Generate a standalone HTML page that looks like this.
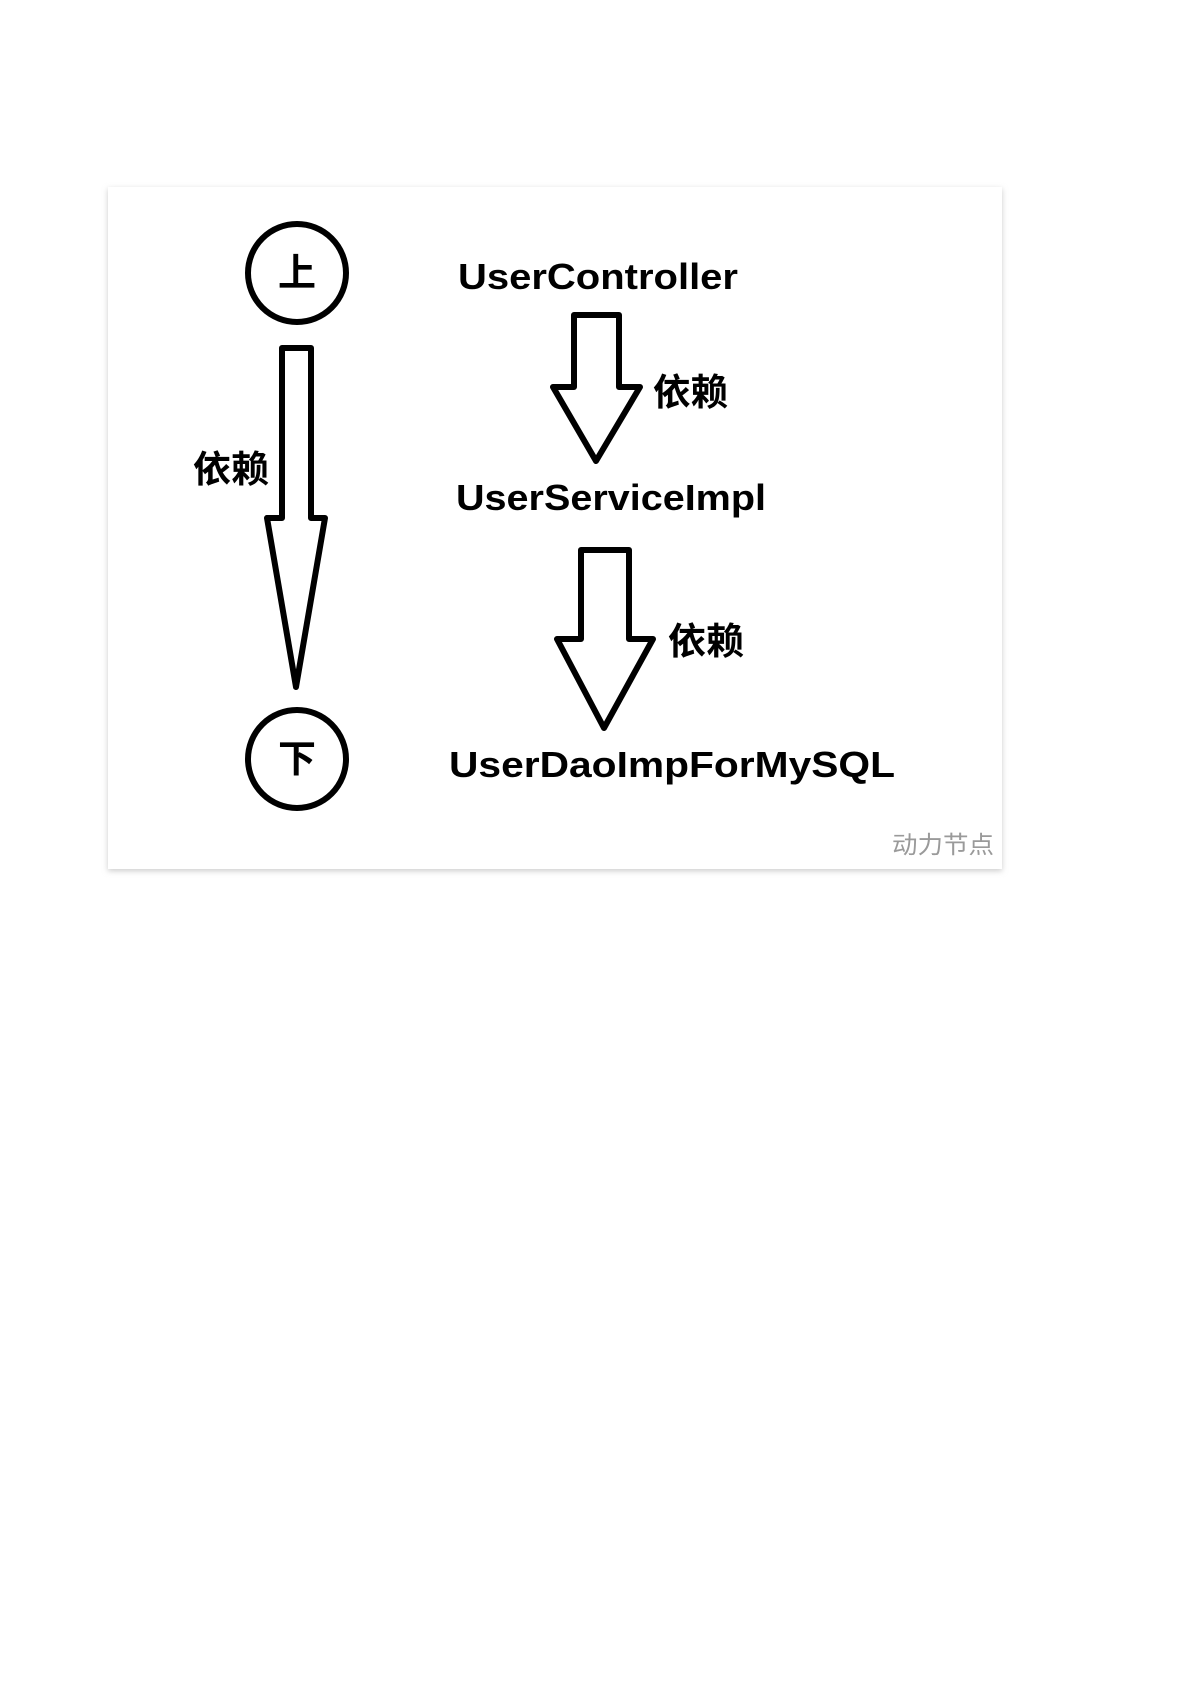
<!DOCTYPE html>
<html><head><meta charset="utf-8"><style>
html,body{margin:0;padding:0;background:#fff;width:1191px;height:1685px;overflow:hidden}
</style></head><body>
<svg width="1191" height="1685" xmlns="http://www.w3.org/2000/svg">
<defs><filter id="sh" x="-5%" y="-5%" width="110%" height="110%"><feGaussianBlur stdDeviation="3"/></filter></defs>
<rect x="108" y="189" width="894" height="682" fill="#ccc" filter="url(#sh)"/>
<rect x="108" y="187" width="894" height="682" fill="#fff"/>
<g fill="none" stroke="#000" stroke-width="6" stroke-linejoin="round">
<circle cx="297" cy="273" r="49"/>
<circle cx="297" cy="759" r="49"/>
<polygon points="282,348 311,348 311,518 325,518 296,687 267,518 282,518"/>
<polygon points="574,315 619,315 619,387 640,387 596,461 553,387 574,387"/>
<polygon points="581,550 629,550 629,639 653,639 604,728 557,639 581,639"/>
</g>
<g font-family="Liberation Sans, 'Noto Sans CJK SC', sans-serif" font-weight="bold" fill="#000">
<text x="297" y="286" font-size="38" text-anchor="middle" font-family="'Noto Sans CJK SC',sans-serif">上</text>
<text x="297" y="772" font-size="38" text-anchor="middle" font-family="'Noto Sans CJK SC',sans-serif">下</text>
<text x="193" y="482" font-size="37" textLength="76" lengthAdjust="spacingAndGlyphs" font-family="'Noto Sans CJK SC',sans-serif">依赖</text>
<text x="653" y="405" font-size="37" textLength="75" lengthAdjust="spacingAndGlyphs" font-family="'Noto Sans CJK SC',sans-serif">依赖</text>
<text x="668" y="654" font-size="37" textLength="76" lengthAdjust="spacingAndGlyphs" font-family="'Noto Sans CJK SC',sans-serif">依赖</text>
<text x="458" y="289" font-size="36" textLength="280" lengthAdjust="spacingAndGlyphs">UserController</text>
<text x="456" y="510" font-size="36" textLength="310" lengthAdjust="spacingAndGlyphs">UserServiceImpl</text>
<text x="449" y="777" font-size="36" textLength="446" lengthAdjust="spacingAndGlyphs">UserDaoImpForMySQL</text>
</g>
<text x="892" y="853" font-size="24" fill="#9a9a9a" textLength="102" lengthAdjust="spacingAndGlyphs" font-family="'Noto Sans CJK SC',sans-serif">动力节点</text>
</svg>
</body></html>
